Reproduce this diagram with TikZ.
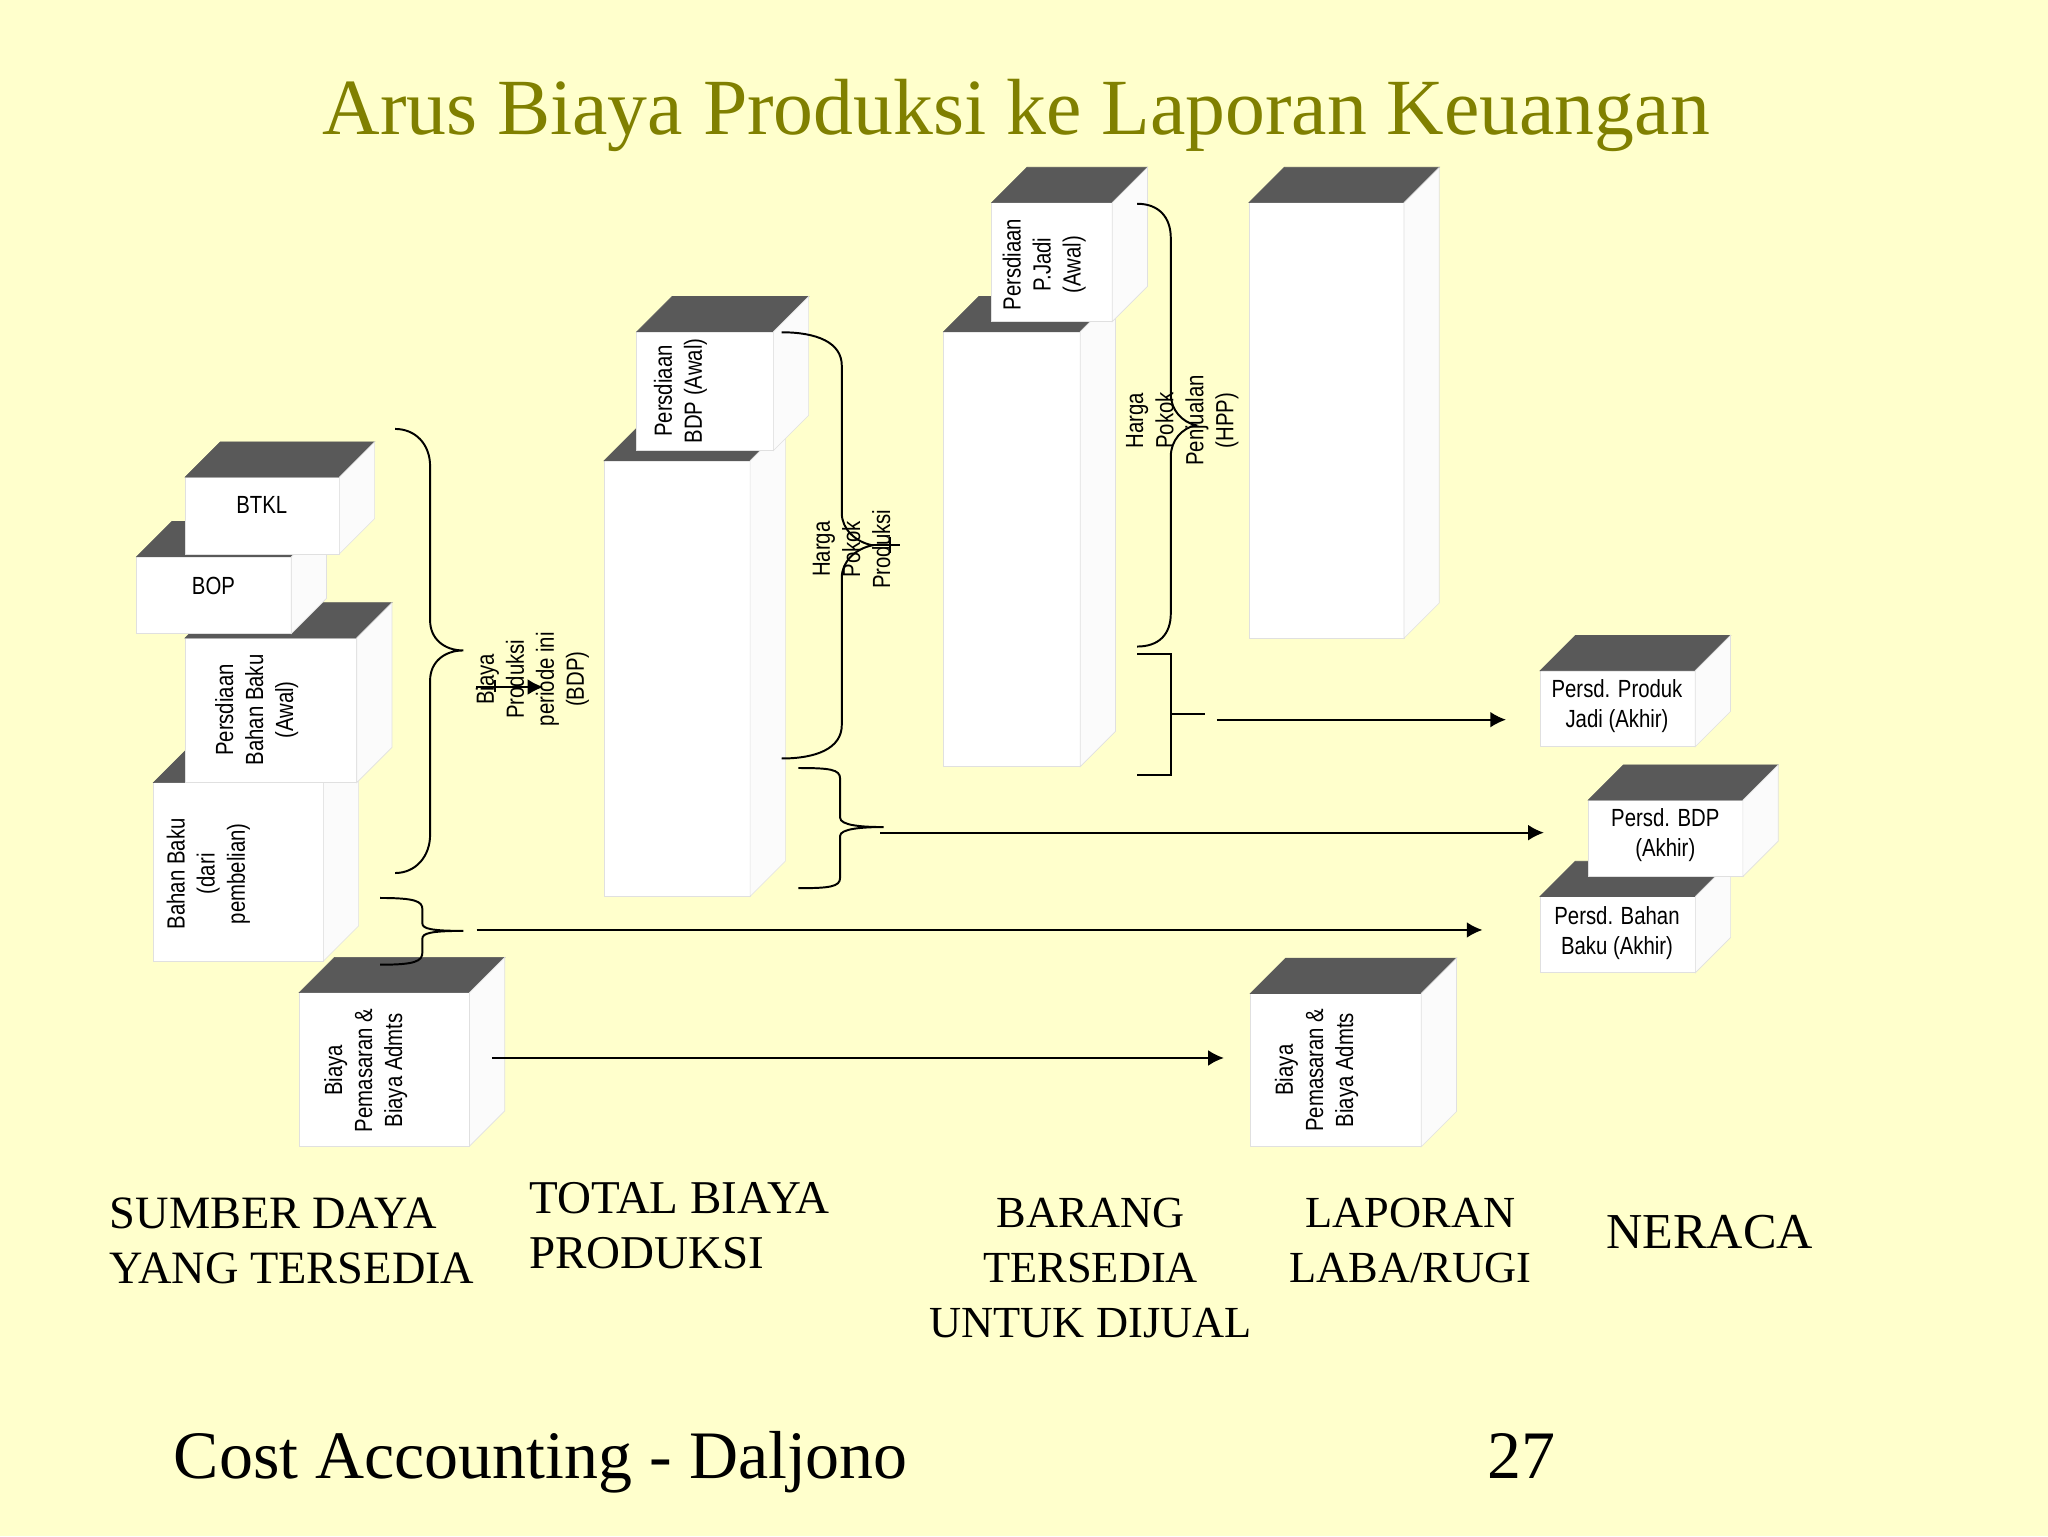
\documentclass[tikz,border=0pt]{standalone}
\usepackage{fontspec}
\setmainfont{Liberation Serif}
\newfontfamily\sempit[FakeStretch=0.82]{Liberation Sans}
\usetikzlibrary{arrows.meta}

\definecolor{latar}{RGB}{255,255,204}
\definecolor{judulwarna}{RGB}{128,128,0}
\definecolor{atap}{RGB}{89,89,89}

\tikzset{
  muka/.style={fill=white, draw=black!12, line width=0.5pt, inner sep=0pt, outer sep=0pt, anchor=north west},
  sisi/.style={fill=black!1.5, draw=black!12, line width=0.5pt},
  atas/.style={fill=atap, draw=atap, line width=0.5pt},
  isi/.style={font=\sempit\fontsize{19}{23}\selectfont, align=center, inner sep=0pt},
  isiputar/.style={isi, rotate=90},
  kurung/.style={line width=1.5pt},
  panah/.style={line width=1.3pt, -{Latex[length=12pt,width=12pt]}},
  teks/.style={font=\fontsize{34}{42}\selectfont, inner sep=0pt},
}

% kubus: nama, kiri, atas, kanan, bawah (muka depan)
\newcommand{\kubus}[5]{%
  \node[muka, minimum width=#4pt-#2pt, minimum height=#5pt-#3pt] (#1) at (#2,#3) {};
  \filldraw[atas] (#1.north west) -- ++(27,-27) -- ([shift={(27,-27)}]#1.north east) -- (#1.north east) -- cycle;
  \filldraw[sisi] (#1.north east) -- ++(27,-27) -- ([shift={(27,-27)}]#1.south east) -- (#1.south east) -- cycle;
}

\begin{document}
\begin{tikzpicture}[x=1pt, y=-1pt]
  \fill[latar] (0,0) rectangle (1568,1176);
  \useasboundingbox (0,0) rectangle (1568,1176);

  \node[font=\fontsize{61}{70}\selectfont, text=judulwarna, anchor=base, inner sep=0pt] (judul) at (778,103) {Arus Biaya Produksi ke Laporan Keuangan};

  % sumber daya
  \kubus{bbbeli}{117.4}{599.2}{247.6}{735.8}
  \kubus{bbawal}{141.7}{488.4}{273.1}{599.2}
  \kubus{bop}{104.6}{426.3}{223}{485.1}
  \kubus{btkl}{141.7}{365.3}{259.8}{424.1}
  \kubus{bpaa}{229}{760}{359.4}{877.5}

  \node[isi] (tbtkl) at (200.4,386.8) {BTKL};
  \node[isi] (tbop) at (163.4,448.3) {BOP};
  \node[isiputar] (tbbawal) at (196.5,543.6) {Persdiaan\\Bahan Baku\\(Awal)};
  \node[isiputar] (tbbbeli) at (159.5,669) {Bahan Baku\\(dari\\pembelian)};
  \node[isiputar] (tbpaa) at (280,819.5) {Biaya\\Pemasaran \&\\Biaya Admts};

  % total biaya produksi
  \kubus{total}{462.5}{352.8}{574.3}{686.3}
  \kubus{bdpawal}{487.5}{254}{592.1}{345}
  \node[isiputar] (tbdpawal) at (521,299.4) {Persdiaan\\BDP (Awal)};

  % barang tersedia untuk dijual
  \kubus{tersedia}{722.4}{254}{827}{587}
  \kubus{pjawal}{759.3}{155.1}{851.5}{246.3}
  \node[isiputar] (tpjawal) at (799.4,202.6) {Persdiaan\\P.Jadi\\(Awal)};

  % laporan laba/rugi
  \kubus{labarugi}{956.3}{155.1}{1074.9}{488.7}
  \kubus{bpab}{957.4}{760.6}{1088.1}{878}
  \node[isiputar] (tbpab) at (1008,819.3) {Biaya\\Pemasaran \&\\Biaya Admts};

  % neraca
  \kubus{bbakhir}{1179}{686.4}{1298}{744.8}
  \kubus{bdpakhir}{1216}{612.6}{1334.4}{671}
  \kubus{pjakhir}{1179.2}{513.5}{1297.9}{571.7}
  \node[isi] (tpjakhir) at (1238,540.5) {Persd. Produk\\Jadi (Akhir)};
  \node[isi] (tbdpakhir) at (1275,639.3) {Persd. BDP\\(Akhir)};
  \node[isi] (tbbakhir) at (1238,714.6) {Persd. Bahan\\Baku (Akhir)};

  % kurung kurawal
  \draw[kurung] (302.5,328.4) .. controls (318,328.4) and (329.3,340) .. (329.3,357) -- (329.3,475)
    .. controls (329.3,489) and (340,498) .. (354.8,498) .. controls (340,498) and (329.3,507) .. (329.3,521)
    -- (329.3,639) .. controls (329.3,656) and (318,668.4) .. (302.5,668.4);
  \draw[kurung] (598.5,254.4) .. controls (625,254.4) and (644.5,262) .. (644.5,280) -- (644.5,393)
    .. controls (644.5,405) and (655,415) .. (668,417.5) .. controls (655,420) and (644.5,430) .. (644.5,442)
    -- (644.5,555) .. controls (644.5,573) and (625,580.7) .. (598.5,580.7);
  \draw[kurung] (870.6,156) .. controls (887,156) and (896.4,166) .. (896.4,182.5) -- (896.4,301.7)
    .. controls (896.4,314) and (905,323) .. (915.4,325.5) .. controls (905,328) and (896.4,337) .. (896.4,349.5)
    -- (896.4,469.5) .. controls (896.4,486) and (887,495) .. (870.6,495);
  \draw[kurung] (611.3,588) .. controls (635,588) and (643.2,589) .. (643.2,596) -- (643.2,626)
    .. controls (643.2,632) and (660,633.2) .. (676.5,633.2) .. controls (660,633.2) and (643.2,634.5) .. (643.2,640)
    -- (643.2,672) .. controls (643.2,679) and (635,680) .. (611.3,680);
  \draw[kurung] (291,687.5) .. controls (318,687.5) and (323.4,690) .. (323.4,696.2) -- (323.4,707)
    .. controls (323.4,711) and (330,712.7) .. (354.8,712.7) .. controls (330,712.7) and (323.4,714.5) .. (323.4,718.5)
    -- (323.4,729) .. controls (323.4,736) and (318,738.6) .. (291,738.6);
  \draw[kurung] (870.6,501) -- (896.4,501) -- (896.4,593) -- (870.6,593);
  \draw[kurung] (896.4,547) -- (922.7,547);

  % label kurung
  \node[isiputar] (tbdp) at (407.7,520) {Biaya\\Produksi\\periode ini\\(BDP)};
  \node[isiputar] (thpprod) at (652,420.5) {Harga\\Pokok\\Produksi};
  \node[isiputar] (thpp) at (905.2,322) {Harga\\Pokok\\Penjualan\\(HPP)};

  % sisa garis kecil
  \coordinate (bdpa) at (364.5,526);
  \coordinate (bdpb) at (416,526);
  \draw[panah] (bdpa) -- (bdpb);
  \draw[line width=1.3pt] (379,520.6) -- (379,529.6);
  \coordinate (hppa) at (666,417);
  \coordinate (hppb) at (689,417);
  \draw[line width=1.3pt] (hppa) -- (hppb);
  \draw[line width=1.3pt] (681.5,411) -- (681.5,423);

  % panah ke laporan
  \coordinate (dari-pj) at (931.7,551);
  \coordinate (ke-pj) at (1153,551);
  \coordinate (dari-bdp) at (673.8,637.5);
  \coordinate (ke-bdp) at (1182,637.5);
  \coordinate (dari-bb) at (365,712);
  \coordinate (ke-bb) at (1135,712);
  \coordinate (dari-paa) at (bpaa.east |- 0,810);
  \coordinate (ke-paa) at (937,810);
  \draw[panah] (dari-pj) -- (ke-pj);
  \draw[panah] (dari-bdp) -- (ke-bdp);
  \draw[panah] (dari-bb) -- (ke-bb);
  \draw[panah] ([xshift=17.1pt]dari-paa) -- (ke-paa);

  % judul kolom
  \node[teks, font=\fontsize{35.5}{42}\selectfont, anchor=north west, align=left] (sumber) at (84,917) {SUMBER DAYA\\YANG TERSEDIA};
  \node[teks, font=\fontsize{36}{42}\selectfont, anchor=north west, align=left] (totalbp) at (405,905) {TOTAL BIAYA\\PRODUKSI};
  \node[teks, anchor=north, align=center] (barang) at (835,917) {BARANG\\TERSEDIA\\UNTUK DIJUAL};
  \node[teks, anchor=north, align=center] (laporan) at (1080,917) {LAPORAN\\LABA/RUGI};
  \node[teks, font=\fontsize{38.5}{42}\selectfont, anchor=north] (neraca) at (1309,930) {NERACA};

  \node[font=\fontsize{52}{60}\selectfont, anchor=base west, inner sep=0pt] (kaki) at (133,1132) {Cost Accounting - Daljono};
  \node[font=\fontsize{52}{60}\selectfont, anchor=base, inner sep=0pt] (halaman) at (1165,1132) {27};
\end{tikzpicture}
\end{document}
